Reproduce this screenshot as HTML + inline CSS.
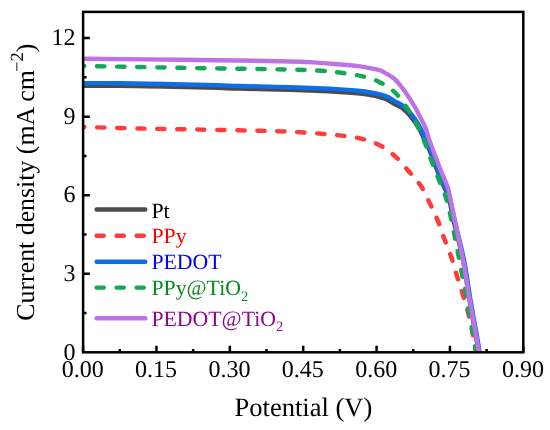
<!DOCTYPE html><html><head><meta charset="utf-8"><style>html,body{margin:0;padding:0;background:#fff;width:550px;height:430px;overflow:hidden}svg{display:block}text{text-rendering:geometricPrecision}svg{will-change:transform}</style></head><body><svg width="550" height="430" viewBox="0 0 550 430">
<rect width="550" height="430" fill="#fff"/>
<defs><clipPath id="c"><rect x="83.1" y="11.9" width="440.2" height="340.4"/></clipPath></defs>
<g clip-path="url(#c)" fill="none" stroke-linejoin="round">
<path d="M83.20,85.80 C89.33,85.80 99.34,85.50 119.96,85.80 C140.59,86.10 186.94,87.13 206.94,87.60 C226.93,88.07 226.10,88.23 239.93,88.60 C253.76,88.97 273.26,89.23 289.91,89.80 C306.56,90.36 327.40,91.28 339.85,92.00 C352.30,92.71 357.24,93.01 364.63,94.07 C372.02,95.14 379.34,96.80 384.19,98.37 C389.05,99.95 390.64,101.82 393.75,103.52 C396.85,105.22 399.86,106.26 402.81,108.59 C405.76,110.91 408.62,113.96 411.44,117.47 C414.26,120.99 417.49,125.77 419.73,129.67 C421.97,133.58 423.25,137.46 424.89,140.91 C426.53,144.36 427.51,145.48 429.58,150.39 C431.64,155.30 435.19,165.03 437.27,170.36 C439.35,175.70 440.53,178.72 442.08,182.39 C443.63,186.05 445.24,188.88 446.57,192.36 C447.89,195.83 448.79,198.26 450.03,203.24 C451.27,208.22 451.86,212.73 454.03,222.22 C456.19,231.71 460.44,247.20 463.02,260.19 C465.60,273.19 467.25,286.84 469.51,300.17 C471.78,313.50 475.10,331.46 476.61,340.17 C478.13,348.89 478.28,350.41 478.61,352.46" stroke="#4d4a48" stroke-width="4.4" stroke-linecap="round"/>
<path transform="scale(1.035,1)" d="M80.39,127.00 C89.53,127.25 116.46,128.07 135.27,128.50 C154.07,128.93 173.67,129.22 193.24,129.60 C212.80,129.98 239.61,130.50 252.66,130.80 C265.70,131.10 265.19,131.15 271.50,131.40 C277.81,131.65 284.04,131.92 290.53,132.30 C297.02,132.68 303.85,133.15 310.43,133.70 C317.02,134.25 323.66,134.78 330.05,135.60 C336.44,136.42 342.74,137.03 348.79,138.60 C354.85,140.17 360.97,142.13 366.38,145.00 C371.79,147.87 376.60,151.55 381.26,155.80 C385.91,160.05 390.13,165.58 394.30,170.50 C398.47,175.42 402.82,179.90 406.28,185.30 C409.74,190.70 412.29,197.02 415.07,202.90 C417.86,208.78 420.64,214.65 423.00,220.60 C425.35,226.55 427.05,232.65 429.18,238.60 C431.30,244.55 433.72,250.18 435.75,256.30 C437.78,262.42 439.50,269.10 441.35,275.30 C443.20,281.50 445.09,287.52 446.86,293.50 C448.63,299.48 450.45,305.15 451.98,311.20 C453.51,317.25 454.72,322.95 456.04,329.80 C457.36,336.65 459.26,348.55 459.90,352.30" stroke="#ff3b3b" stroke-width="4.4" stroke-linecap="round" stroke-dasharray="6.950 12.374" stroke-dashoffset="5.70048309178744"/>
<path d="M83.20,83.20 C89.33,83.20 99.37,82.90 120.00,83.20 C140.63,83.50 187.00,84.53 207.00,85.00 C227.00,85.47 226.17,85.63 240.00,86.00 C253.83,86.37 273.33,86.63 290.00,87.20 C306.67,87.77 327.50,88.68 340.00,89.40 C352.50,90.12 357.50,90.42 365.00,91.50 C372.50,92.58 380.00,94.27 385.00,95.90 C390.00,97.53 391.78,99.48 395.00,101.30 C398.22,103.12 401.30,104.30 404.30,106.80 C407.30,109.30 410.22,112.60 413.00,116.30 C415.78,120.00 418.87,124.97 421.00,129.00 C423.13,133.03 424.22,137.00 425.80,140.50 C427.38,144.00 428.43,145.08 430.50,150.00 C432.57,154.92 436.12,164.67 438.20,170.00 C440.28,175.33 441.45,178.33 443.00,182.00 C444.55,185.67 446.17,188.50 447.50,192.00 C448.83,195.50 449.75,198.00 451.00,203.00 C452.25,208.00 452.83,212.50 455.00,222.00 C457.17,231.50 461.42,247.00 464.00,260.00 C466.58,273.00 468.23,286.67 470.50,300.00 C472.77,313.33 476.08,331.28 477.60,340.00 C479.12,348.72 479.27,350.25 479.60,352.30" stroke="#0c6ee8" stroke-width="4.4" stroke-linecap="round"/>
<path transform="scale(1.035,1)" d="M80.39,66.00 C95.97,66.30 141.58,67.22 173.91,67.80 C206.25,68.38 251.61,69.00 274.40,69.50 C297.18,70.00 301.45,70.25 310.63,70.80 C319.81,71.35 323.19,71.95 329.47,72.80 C335.75,73.65 342.24,74.42 348.31,75.90 C354.38,77.38 360.42,79.02 365.89,81.70 C371.37,84.38 376.60,87.63 381.16,92.00 C385.72,96.37 389.60,102.42 393.24,107.90 C396.88,113.38 400.10,119.05 403.00,124.90 C405.89,130.75 408.29,136.98 410.63,143.00 C412.96,149.02 414.78,154.92 417.00,161.00 C419.23,167.08 421.69,173.55 423.96,179.50 C426.23,185.45 428.78,190.88 430.63,196.70 C432.48,202.52 433.67,208.12 435.07,214.40 C436.47,220.68 437.78,227.97 439.03,234.40 C440.29,240.83 441.43,246.72 442.61,253.00 C443.78,259.28 444.90,265.67 446.09,272.10 C447.28,278.53 448.62,285.08 449.76,291.60 C450.90,298.12 451.85,304.83 452.95,311.20 C454.04,317.57 455.17,322.95 456.33,329.80 C457.49,336.65 459.31,348.55 459.90,352.30" stroke="#12a857" stroke-width="4.4" stroke-linecap="round" stroke-dasharray="6.950 12.374" stroke-dashoffset="5.70048309178744"/>
<path d="M83.20,58.80 C99.33,58.95 147.20,59.30 180.00,59.70 C212.80,60.10 258.50,60.80 280.00,61.20 C301.50,61.60 299.33,61.58 309.00,62.10 C318.67,62.62 329.50,63.58 338.00,64.30 C346.50,65.02 354.07,65.63 360.00,66.40 C365.93,67.17 370.27,68.25 373.60,68.90 C376.93,69.55 377.77,69.45 380.00,70.30 C382.23,71.15 384.67,72.63 387.00,74.00 C389.33,75.37 391.75,76.57 394.00,78.50 C396.25,80.43 398.18,82.72 400.50,85.60 C402.82,88.48 405.88,92.85 407.90,95.80 C409.92,98.75 411.15,100.93 412.60,103.30 C414.05,105.67 415.15,107.33 416.60,110.00 C418.05,112.67 419.75,116.20 421.30,119.30 C422.85,122.40 424.68,125.50 425.90,128.60 C427.12,131.70 427.42,134.33 428.60,137.90 C429.78,141.47 431.00,144.65 433.00,150.00 C435.00,155.35 438.62,165.00 440.60,170.00 C442.58,175.00 443.67,177.00 444.90,180.00 C446.13,183.00 447.48,186.67 448.00,188.00 C448.45,190.00 449.58,194.67 450.70,200.00 C451.82,205.33 452.63,210.00 454.70,220.00 C456.77,230.00 460.60,246.67 463.10,260.00 C465.60,273.33 467.40,286.67 469.70,300.00 C472.00,313.33 475.35,331.28 476.90,340.00 C478.45,348.72 478.65,350.25 479.00,352.30" stroke="#bd72e6" stroke-width="4.4" stroke-linecap="round"/>
</g>
<rect x="83.1" y="11.9" width="440.2" height="340.4" fill="none" stroke="#000" stroke-width="2.5"/>
<path d="M83.10 352.3v-6.5 M156.47 352.3v-6.5 M229.83 352.3v-6.5 M303.20 352.3v-6.5 M376.57 352.3v-6.5 M449.93 352.3v-6.5 M523.30 352.3v-6.5 M119.78 352.3v-3.4 M193.15 352.3v-3.4 M266.52 352.3v-3.4 M339.88 352.3v-3.4 M413.25 352.3v-3.4 M486.62 352.3v-3.4 M83.1 273.75h6.7 M83.1 195.19h6.7 M83.1 116.64h6.7 M83.1 38.08h6.7 M83.1 313.02h3.4 M83.1 234.47h3.4 M83.1 155.92h3.4 M83.1 77.36h3.4" stroke="#000" stroke-width="2.5" fill="none"/>
<text x="82.70" y="377.3" font-family="Liberation Serif" font-size="24" text-anchor="middle">0.00</text>
<text x="156.07" y="377.3" font-family="Liberation Serif" font-size="24" text-anchor="middle">0.15</text>
<text x="229.43" y="377.3" font-family="Liberation Serif" font-size="24" text-anchor="middle">0.30</text>
<text x="302.80" y="377.3" font-family="Liberation Serif" font-size="24" text-anchor="middle">0.45</text>
<text x="376.17" y="377.3" font-family="Liberation Serif" font-size="24" text-anchor="middle">0.60</text>
<text x="449.53" y="377.3" font-family="Liberation Serif" font-size="24" text-anchor="middle">0.75</text>
<text x="522.90" y="377.3" font-family="Liberation Serif" font-size="24" text-anchor="middle">0.90</text>
<text x="75.6" y="359.60" font-family="Liberation Serif" font-size="24" text-anchor="end">0</text>
<text x="75.6" y="281.05" font-family="Liberation Serif" font-size="24" text-anchor="end">3</text>
<text x="75.6" y="202.49" font-family="Liberation Serif" font-size="24" text-anchor="end">6</text>
<text x="75.6" y="123.94" font-family="Liberation Serif" font-size="24" text-anchor="end">9</text>
<text x="75.6" y="45.38" font-family="Liberation Serif" font-size="24" text-anchor="end">12</text>
<text x="303.4" y="415.9" font-family="Liberation Serif" font-size="26.5" text-anchor="middle">Potential (V)</text>
<text transform="translate(33.6,182.2) rotate(-90)" font-family="Liberation Serif" font-size="25.85" text-anchor="middle">Current density (mA cm<tspan dx="-1.8" dy="-10.6" font-size="18.5">−2</tspan><tspan dy="10.6">)</tspan></text>
<path d="M96.6 209.5H145.3" stroke="#4d4a48" stroke-width="4.4" stroke-linecap="round"/>
<text x="151.4" y="217.5" font-family="Liberation Serif" font-size="21.8" fill="#000">Pt</text>
<path d="M96.6 235.7H143.8" stroke="#ff3b3b" stroke-width="4.4" stroke-linecap="round" stroke-dasharray="7.2 12.8"/>
<text x="151.4" y="243.1" font-family="Liberation Serif" font-size="21.8" fill="#ff0000">PPy</text>
<path d="M96.6 261.7H145.3" stroke="#0c6ee8" stroke-width="4.4" stroke-linecap="round"/>
<text x="151.4" y="268.79999999999995" font-family="Liberation Serif" font-size="21.8" fill="#0000ff">PEDOT</text>
<path d="M96.6 287.6H143.8" stroke="#12a857" stroke-width="4.4" stroke-linecap="round" stroke-dasharray="7.2 12.8"/>
<text x="151.4" y="295.2" font-family="Liberation Serif" font-size="21.8" fill="#068a1c">PPy@TiO<tspan font-size="14.5" dy="5.3">2</tspan></text>
<path d="M96.6 318.3H145.3" stroke="#bd72e6" stroke-width="4.4" stroke-linecap="round"/>
<text x="151.4" y="325.9" font-family="Liberation Serif" font-size="21.8" fill="#8e058e">PEDOT@TiO<tspan font-size="14.5" dy="5.3">2</tspan></text>
</svg></body></html>
